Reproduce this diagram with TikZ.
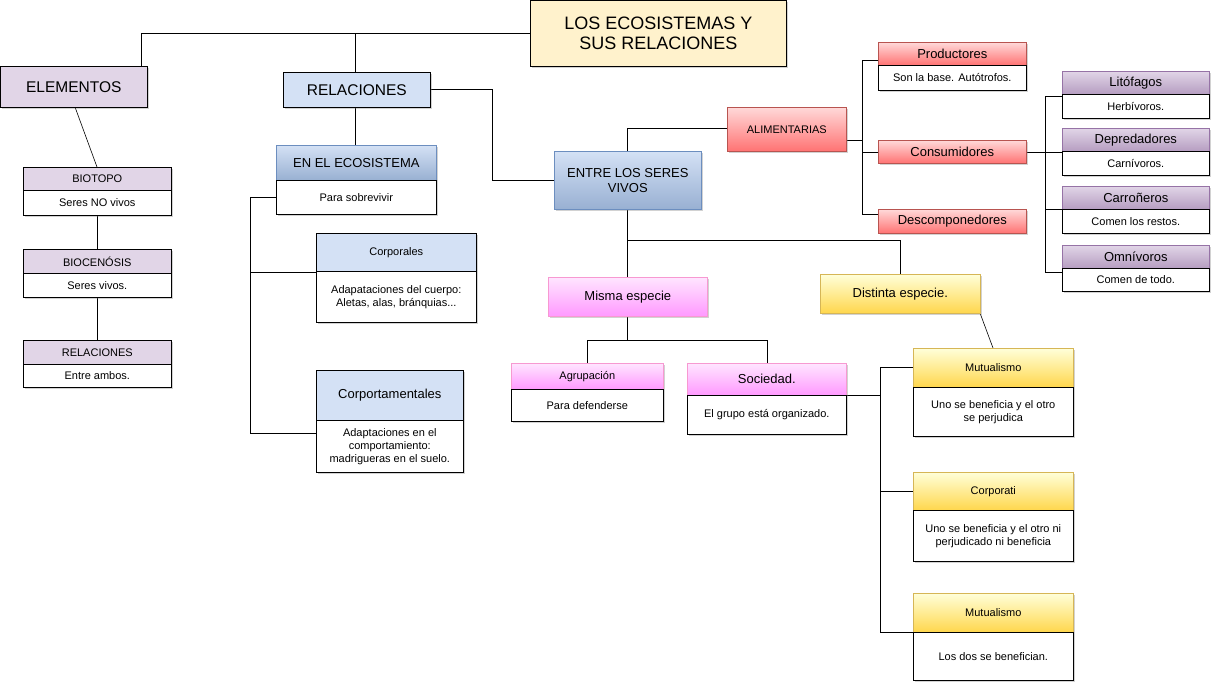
\documentclass[tikz,border=0pt]{standalone}
\usepackage{fontspec}
\setmainfont{Liberation Sans}
\usetikzlibrary{shadows}
\begin{document}
\begin{tikzpicture}[x=1pt,y=-1pt,
 bx/.style={draw=#1,line width=0.6pt,drop shadow={shadow xshift=2pt,shadow yshift=-2pt,opacity=0.35},align=center,inner sep=1pt},
 ln/.style={draw=black,line width=0.6pt},
 sm/.style={font=\fontsize{11}{13}\selectfont},
 md/.style={font=\fontsize{13}{15}\selectfont},
 lg/.style={font=\fontsize{15.5}{18}\selectfont}]
\useasboundingbox (0,0) rectangle (1215,686);
\fill[white] (0,0) rectangle (1215,686);
% helper macro: box by corners
\newcommand\bxx[7]{\node[bx=#5,#6,minimum width=#3-#1,minimum height=#4-#2,anchor=north west] at (#1,#2) {#7};}
\colorlet{pur}{violet!20!white}
\definecolor{purf}{HTML}{E1D5E7}\definecolor{purd}{HTML}{9673A6}
\definecolor{bluf}{HTML}{D4E1F5}\definecolor{blud}{HTML}{6C8EBF}
\definecolor{redd}{HTML}{B85450}\definecolor{yeld}{HTML}{D6B656}
\definecolor{titf}{HTML}{FFF2CC}
% connectors (drawn first)
\draw[ln] (530,33) -- (141,33) -- (141,66);
\draw[ln] (355,33) -- (355,72);
\draw[ln] (75,107) -- (97,167);
\draw[ln] (97,215) -- (97,249);
\draw[ln] (97,297) -- (97,340);
\draw[ln] (355,107) -- (355,145);
\draw[ln] (430,89) -- (492,89) -- (492,180) -- (554,180);
\draw[ln] (276,197) -- (250,197) -- (250,433) -- (316,433);
\draw[ln] (250,272) -- (316,272);
\draw[ln] (627,151) -- (627,128) -- (727,128);
\draw[ln] (846,140) -- (862,140);
\draw[ln] (878,60) -- (862,60) -- (862,214) -- (878,214);
\draw[ln] (862,152) -- (878,152);
\draw[ln] (1026,152) -- (1062,152);
\draw[ln] (1062,96) -- (1045,96) -- (1045,272) -- (1062,272);
\draw[ln] (1045,209) -- (1062,209);
\draw[ln] (627,209) -- (627,277);
\draw[ln] (627,240) -- (900,240) -- (900,274);
\draw[ln] (627,316) -- (627,340) -- (587,340) -- (587,363);
\draw[ln] (627,340) -- (767,340) -- (767,363);
\draw[ln] (980,313) -- (993,348);
\draw[ln] (846,395) -- (880,395);
\draw[ln] (913,367) -- (880,367) -- (880,632) -- (913,632);
\draw[ln] (880,491) -- (913,491);
% title etc
\bxx{530}{0}{786}{66}{black}{fill=titf,font=\fontsize{18}{20}\selectfont}{LOS ECOSISTEMAS Y\\SUS RELACIONES}
\bxx{0}{66}{147}{107}{black}{fill=purf,lg}{ELEMENTOS}
\bxx{283}{72}{430}{107}{black}{fill=bluf,lg}{RELACIONES}
% elementos
\bxx{23}{167}{171}{190}{black}{fill=purf,sm}{BIOTOPO}
\bxx{23}{190}{171}{215}{black}{fill=white,sm}{Seres NO vivos}
\bxx{23}{249}{171}{273}{black}{fill=purf,sm}{BIOCENÓSIS}
\bxx{23}{273}{171}{297}{black}{fill=white,sm}{Seres vivos.}
\bxx{23}{340}{171}{364}{black}{fill=purf,sm}{RELACIONES}
\bxx{23}{364}{171}{387}{black}{fill=white,sm}{Entre ambos.}
% ecosistema
\bxx{276}{145}{436}{180}{blud}{top color=bluf,bottom color=blud!70,md}{EN EL ECOSISTEMA}
\bxx{276}{180}{436}{214}{black}{fill=white,sm}{Para sobrevivir}
\bxx{316}{233}{476}{271}{black}{fill=bluf,sm}{Corporales}
\bxx{316}{271}{476}{322}{black}{fill=white,sm}{Adapataciones del cuerpo:\\Aletas, alas, bránquias...}
\bxx{316}{370}{463}{420}{black}{fill=bluf,md}{Corportamentales}
\bxx{316}{420}{463}{472}{black}{fill=white,sm}{Adaptaciones en el\\comportamiento:\\madrigueras en el suelo.}
% seres vivos
\bxx{554}{151}{701}{209}{blud}{top color=bluf,bottom color=blud!70,md}{ENTRE LOS SERES\\VIVOS}
\bxx{727}{107}{846}{151}{redd}{top color=red!15,bottom color=red!55,sm}{ALIMENTARIAS}
\bxx{878}{42}{1026}{65}{redd}{top color=red!15,bottom color=red!55,md}{Productores}
\bxx{878}{65}{1026}{90}{black}{fill=white,sm}{Son la base. Autótrofos.}
\bxx{878}{140}{1026}{163}{redd}{top color=red!15,bottom color=red!55,md}{Consumidores}
\bxx{878}{209}{1026}{233}{redd}{top color=red!15,bottom color=red!55,md}{Descomponedores}
\bxx{1062}{71}{1209}{94}{purd}{top color=purf,bottom color=purd!70,md}{Litófagos}
\bxx{1062}{94}{1209}{118}{black}{fill=white,sm}{Herbívoros.}
\bxx{1062}{128}{1209}{151}{purd}{top color=purf,bottom color=purd!70,md}{Depredadores}
\bxx{1062}{151}{1209}{175}{black}{fill=white,sm}{Carnívoros.}
\bxx{1062}{186}{1209}{209}{purd}{top color=purf,bottom color=purd!70,md}{Carroñeros}
\bxx{1062}{209}{1209}{233}{black}{fill=white,sm}{Comen los restos.}
\bxx{1062}{245}{1209}{268}{purd}{top color=purf,bottom color=purd!70,md}{Omnívoros}
\bxx{1062}{268}{1209}{291}{black}{fill=white,sm}{Comen de todo.}
% especies
\bxx{548}{277}{707}{316}{magenta!40}{top color=magenta!10,bottom color=magenta!40,md}{Misma especie}
\bxx{820}{274}{980}{313}{yeld}{top color=yellow!15,bottom color=yellow!55!orange!70,md}{Distinta especie.}
\bxx{511}{363}{663}{389}{magenta!40}{top color=magenta!10,bottom color=magenta!40,sm}{Agrupación}
\bxx{511}{389}{663}{421}{black}{fill=white,sm}{Para defenderse}
\bxx{687}{363}{846}{395}{magenta!40}{top color=magenta!10,bottom color=magenta!40,md}{Sociedad.}
\bxx{687}{395}{846}{434}{black}{fill=white,sm}{El grupo está organizado.}
\bxx{913}{348}{1073}{387}{yeld}{top color=yellow!15,bottom color=yellow!55!orange!70,sm}{Mutualismo}
\bxx{913}{387}{1073}{436}{black}{fill=white,sm}{Uno se beneficia y el otro\\se perjudica}
\bxx{913}{472}{1073}{510}{yeld}{top color=yellow!15,bottom color=yellow!55!orange!70,sm}{Corporati}
\bxx{913}{510}{1073}{561}{black}{fill=white,sm}{Uno se beneficia y el otro ni\\perjudicado ni beneficia}
\bxx{913}{593}{1073}{632}{yeld}{top color=yellow!15,bottom color=yellow!55!orange!70,sm}{Mutualismo}
\bxx{913}{632}{1073}{680}{black}{fill=white,sm}{Los dos se benefician.}
\end{tikzpicture}
\end{document}
